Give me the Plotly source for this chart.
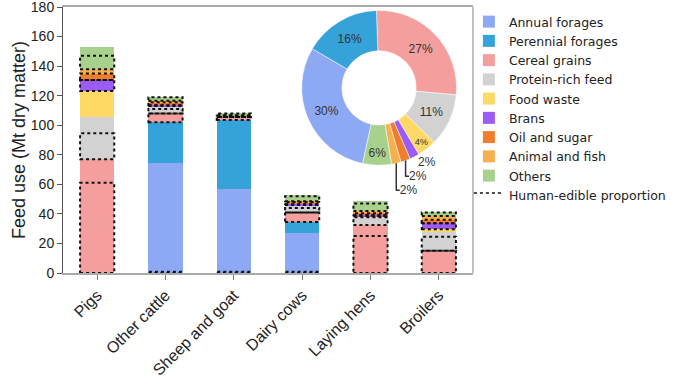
import plotly.graph_objects as go

animals = ["Pigs", "Other cattle", "Sheep and goat", "Dairy cows", "Laying hens", "Broilers"]

feed_types = ["Annual forages", "Perennial forages", "Cereal grains", "Protein-rich feed",
              "Food waste", "Brans", "Oil and sugar", "Animal and fish", "Others"]
colors = ["#8EA9F3", "#36A2DA", "#F49E9E", "#D2D2D2", "#FFD966", "#9B5CF6",
          "#EE7D2E", "#F8AF4D", "#A9D18E"]

# Feed use (Mt dry matter) per animal group
annual_forages = [0, 74.6, 57, 27, 0, 0]
perennial_forages = [0, 27.4, 46.5, 7.5, 0, 0]
cereal_grains = [77, 6, 2, 6.5, 32.5, 15]
protein_rich = [28.8, 4.5, 1, 4.5, 5.2, 12.5]
food_waste = [17.3, 0.5, 0, 0.5, 0.8, 2.1]
brans = [7.5, 0.5, 0, 0.5, 0.5, 4]
oil_sugar = [4.4, 2, 0, 1.5, 1.5, 2.4]
animal_fish = [2.8, 1, 0, 0.5, 1.5, 2.5]
others = [15.2, 2.5, 1.5, 4.5, 6.7, 2.5]

# Human-edible part of each segment
annual_edible = [0, 0.8, 0.8, 0.8, 0, 0]
perennial_edible = [0, 0, 0, 0, 0, 0]
cereal_edible = [61, 6, 2, 6.5, 25, 15]
protein_edible = [17.5, 3, 1, 3, 5.2, 9.5]
food_waste_edible = [0, 0, 0, 0, 0, 0]
brans_edible = [7.5, 0.5, 0, 0.5, 0.5, 4]
oil_sugar_edible = [4.4, 2, 0, 1.5, 1.5, 2.4]
animal_fish_edible = [0, 0, 0, 0, 0, 0]
others_edible = [9.2, 2.5, 1.5, 3.5, 5, 2.5]

# Donut shares (%), same order as feed_types
pie_shares = [30, 16, 27, 11, 4, 2, 2, 2, 6]

series = [annual_forages, perennial_forages, cereal_grains, protein_rich, food_waste,
          brans, oil_sugar, animal_fish, others]
edible = [annual_edible, perennial_edible, cereal_edible, protein_edible, food_waste_edible,
          brans_edible, oil_sugar_edible, animal_fish_edible, others_edible]

FONT = "Liberation Sans"
LFONT = "DejaVu Sans"
fig = go.Figure()

for name, vals, col in zip(feed_types, series, colors):
    fig.add_trace(go.Bar(x=animals, y=vals, name=name, marker_color=col,
                         marker_line_width=0, width=0.5))

# dotted human-edible boxes
base = [0.0] * len(animals)
for vals, ed in zip(series, edible):
    for i in range(len(animals)):
        if ed[i] > 0:
            fig.add_shape(type="rect", xref="x", yref="y",
                          x0=i - 0.25, x1=i + 0.25, y0=base[i], y1=base[i] + ed[i],
                          line=dict(color="#111", width=2, dash="dot"),
                          fillcolor="rgba(0,0,0,0)", layer="above")
        base[i] += vals[i]

# legend entry for human-edible proportion
fig.add_trace(go.Scatter(x=[None], y=[None], mode="lines", name="Human-edible proportion",
                         line=dict(color="#111", width=1.5, dash="dot"),
                         fill="toself", fillcolor="white"))

# donut
pie_order = [2, 3, 4, 5, 6, 7, 8, 0, 1]
pie_labels = [feed_types[k] for k in pie_order]
pie_vals = [pie_shares[k] for k in pie_order]
pie_cols = [colors[k] for k in pie_order]
pie_text = [f"{v}%" for v in pie_vals]
pie_pos = ["outside" if v <= 2 else "inside" for v in pie_vals]
fig.add_trace(go.Pie(labels=pie_labels, values=pie_vals, text=pie_text, textinfo="text",
                     textposition=pie_pos, sort=False, direction="clockwise", rotation=-2,
                     hole=0.48, marker=dict(colors=pie_cols, line=dict(color="white", width=0.5)),
                     insidetextorientation="horizontal",
                     textfont=dict(size=12, color="#333", family=FONT),
                     domain=dict(x=[0.582, 0.960], y=[0.405, 0.987]),
                     showlegend=False))

fig.update_layout(
    width=685, height=386,
    margin=dict(l=63, r=212, t=7, b=113),
    barmode="stack",
    plot_bgcolor="white", paper_bgcolor="white",
    font=dict(family=FONT, color="#222"),
    showlegend=True,
    legend=dict(x=0.99, xanchor="left", y=1.0, yanchor="top", traceorder="normal",
                font=dict(size=12.5, family=LFONT, color="#222"), tracegroupgap=0,
                bgcolor="rgba(0,0,0,0)"),
    xaxis=dict(range=[-0.5, 5.5], tickangle=-45, tickfont=dict(size=16), automargin=False,
               showline=True, linecolor="#aaa", linewidth=1.5, mirror=True,
               ticks="outside", ticklen=5, tickcolor="#777", showgrid=False),
    yaxis=dict(range=[0, 180], dtick=20, tickfont=dict(size=14), automargin=False,
               ticklabeloverflow="allow",
               title=dict(text="Feed use (Mt dry matter)", font=dict(size=18), standoff=0),
               showline=True, linecolor="#555", linewidth=1, ticks="outside", ticklen=5,
               tickcolor="#555", showgrid=False, zeroline=False),
)
fig.add_shape(type="line", xref="paper", yref="paper", x0=1, x1=1, y0=0, y1=1,
              line=dict(color="#aaa", width=1.5))

fig.write_html("out.html", config={"displayModeBar": False},
               post_script="document.body.style.margin='0';")
